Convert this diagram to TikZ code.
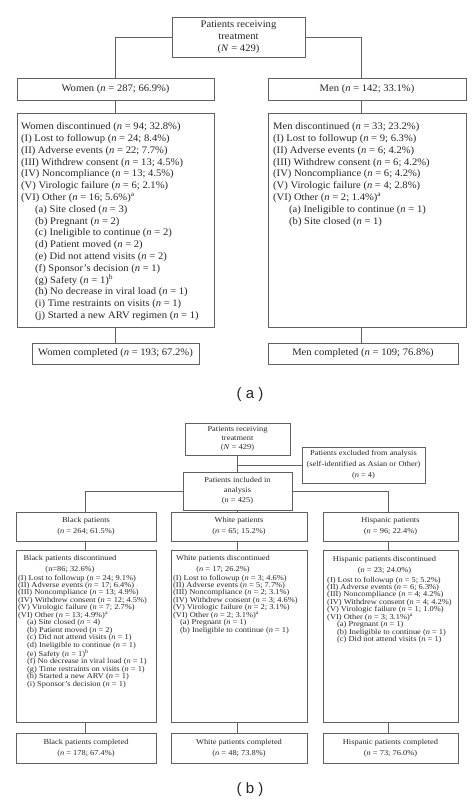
\documentclass[tikz,border=0pt]{standalone}
\usepackage{fontspec}
\setmainfont{Liberation Serif}
\newfontfamily\fa[FakeStretch=1.06]{Liberation Serif}
\newfontfamily\fb[FakeStretch=1.12]{Liberation Serif}
\newfontfamily\flab{Liberation Sans}
\newcommand{\nI}{\textit{n}}
\newcommand{\supa}{\textsuperscript{a}}
\newcommand{\supb}{\textsuperscript{b}}
\definecolor{txt}{gray}{0.15}
\definecolor{boxc}{gray}{0.38}
\begin{document}
\begin{tikzpicture}[x=1pt,y=-1pt,
  box/.style={draw=boxc, line width=0.8pt, inner sep=0pt, align=center, text=txt},
  listtxt/.style={inner sep=0pt, align=left, text=txt, anchor=north west},
  hdtxt/.style={inner sep=0pt, align=center, text=txt, anchor=north},
  ta/.style={font=\fa\fontsize{10}{11.8}\selectfont},
  tb/.style={font=\fb\fontsize{7.5}{7.45}\selectfont},
  tb9/.style={font=\fb\fontsize{7.5}{9}\selectfont},
  tb10/.style={font=\fb\fontsize{7.5}{10}\selectfont},
  tb11/.style={font=\fb\fontsize{7.5}{11}\selectfont},
  ln/.style={draw=boxc, line width=0.8pt},
  lab/.style={font=\flab\fontsize{15}{18}\selectfont, text=txt, inner sep=0pt}]
\useasboundingbox[fill=white] (0,0) rectangle (474,804);

% ---------------- (a) ----------------
\node[box, ta, minimum width=133pt, minimum height=40pt] (top) at (238.5,37) {Patients receiving\\treatment\\(\textit{N} = 429)};
\node[box, ta, minimum width=197pt, minimum height=22pt] (women) at (115.5,89) {Women (\nI{} = 287; 66.9\%)};
\node[box, ta, minimum width=198pt, minimum height=22pt] (men) at (367,89) {Men (\nI{} = 142; 33.1\%)};
\node[box, minimum width=197pt, minimum height=214pt] (wdisc) at (115.5,220) {};
\node[box, minimum width=198pt, minimum height=214pt] (mdisc) at (367,220) {};
\node[listtxt, ta] (wlist) at (21,122.5) {Women discontinued (\nI{} = 94; 32.8\%)\\
(I) Lost to followup (\nI{} = 24; 8.4\%)\\
(II) Adverse events (\nI{} = 22; 7.7\%)\\
(III) Withdrew consent (\nI{} = 13; 4.5\%)\\
(IV) Noncompliance (\nI{} = 13; 4.5\%)\\
(V) Virologic failure (\nI{} = 6; 2.1\%)\\
(VI) Other (\nI{} = 16; 5.6\%)\supa\\
\hspace*{14pt}(a) Site closed (\nI{} = 3)\\
\hspace*{14pt}(b) Pregnant (\nI{} = 2)\\
\hspace*{14pt}(c) Ineligible to continue (\nI{} = 2)\\
\hspace*{14pt}(d) Patient moved (\nI{} = 2)\\
\hspace*{14pt}(e) Did not attend visits (\nI{} = 2)\\
\hspace*{14pt}(f) Sponsor’s decision (\nI{} = 1)\\
\hspace*{14pt}(g) Safety (\nI{} = 1)\supb\\
\hspace*{14pt}(h) No decrease in viral load (\nI{} = 1)\\
\hspace*{14pt}(i) Time restraints on visits (\nI{} = 1)\\
\hspace*{14pt}(j) Started a new ARV regimen (\nI{} = 1)};
\node[listtxt, ta] (mlist) at (273,122.5) {Men discontinued (\nI{} = 33; 23.2\%)\\
(I) Lost to followup (\nI{} = 9; 6.3\%)\\
(II) Adverse events (\nI{} = 6; 4.2\%)\\
(III) Withdrew consent (\nI{} = 6; 4.2\%)\\
(IV) Noncompliance (\nI{} = 6; 4.2\%)\\
(V) Virologic failure (\nI{} = 4; 2.8\%)\\
(VI) Other (\nI{} = 2; 1.4\%)\supa\\
\hspace*{16pt}(a) Ineligible to continue (\nI{} = 1)\\
\hspace*{16pt}(b) Site closed (\nI{} = 1)};
\node[box, ta, minimum width=167pt, minimum height=21pt] (wcomp) at (115.5,353.5) {Women completed (\nI{} = 193; 67.2\%)};
\node[box, ta, minimum width=190pt, minimum height=21pt] (mcomp) at (363,353.5) {Men completed (\nI{} = 109; 76.8\%)};
\node[lab] (la) at (250,395) {( a )};

\coordinate (mx) at (361,0);
\draw[ln] (top.west) -| (women.north);
\draw[ln] (top.east) -| (mx |- men.north);
\draw[ln] (women.south) -- (wdisc.north);
\draw[ln] (men.south -| mx) -- (mdisc.north -| mx);
\draw[ln] (wdisc.south) -- (wcomp.north);
\draw[ln] (mdisc.south -| mx) -- (mcomp.north -| mx);

% ---------------- (b) ----------------
\node[box, tb9, minimum width=105pt, minimum height=32pt] (top2) at (237.5,439) {Patients receiving\\treatment\\(\textit{N} = 429)};
\node[box, tb11, minimum width=123pt, minimum height=36pt] (excl) at (363.5,465) {Patients excluded from analysis\\(self-identified as Asian or Other)\\(\nI{} = 4)};
\node[box, tb10, minimum width=109pt, minimum height=38pt] (incl) at (237.5,491) {Patients included in\\analysis\\(\nI{} = 425)};
\node[box, tb11, minimum width=140pt, minimum height=29pt] (black) at (86,526.5) {Black patients\\(\nI{} = 264; 61.5\%)};
\node[box, tb11, minimum width=136pt, minimum height=29pt] (white) at (239,526.5) {White patients\\(\nI{} = 65; 15.2\%)};
\node[box, tb11, minimum width=135pt, minimum height=29pt] (hisp) at (390.5,526.5) {Hispanic patients\\(\nI{} = 96; 22.4\%)};

\node[box, minimum width=140pt, minimum height=172pt] (bdisc) at (86,636) {};
\node[box, minimum width=136pt, minimum height=172pt] (wdisc2) at (239,636) {};
\node[box, minimum width=135pt, minimum height=172pt] (hdisc) at (390.5,636) {};

\node[hdtxt, tb11] (bhead) at (70,554.6) {Black patients discontinued\\(n=86; 32.6\%)};
\node[listtxt, tb] (blist) at (18,574.6) {(I) Lost to followup (\nI{} = 24; 9.1\%)\\
(II) Adverse events (\nI{} = 17; 6.4\%)\\
(III) Noncompliance (\nI{} = 13; 4.9\%)\\
(IV) Withdrew consent (\nI{} = 12; 4.5\%)\\
(V) Virologic failure (\nI{} = 7; 2.7\%)\\
(VI) Other (\nI{} = 13; 4.9\%)\supa\\
\hspace*{9pt}(a) Site closed (\nI{} = 4)\\
\hspace*{9pt}(b) Patient moved (\nI{} = 2)\\
\hspace*{9pt}(c) Did not attend visits (\nI{} = 1)\\
\hspace*{9pt}(d) Ineligible to continue (\nI{} = 1)\\
\hspace*{9pt}(e) Safety (\nI{} = 1)\supb\\
\hspace*{9pt}(f) No decrease in viral load (\nI{} = 1)\\
\hspace*{9pt}(g) Time restraints on visits (\nI{} = 1)\\
\hspace*{9pt}(h) Started a new ARV (\nI{} = 1)\\
\hspace*{9pt}(i) Sponsor’s decision (\nI{} = 1)};

\node[hdtxt, tb11] (whead) at (223,554.6) {White patients discontinued\\(\nI{} = 17; 26.2\%)};
\node[listtxt, tb] (wlist2) at (173,574.6) {(I) Lost to followup (\nI{} = 3; 4.6\%)\\
(II) Adverse events (\nI{} = 5; 7.7\%)\\
(III) Noncompliance (\nI{} = 2; 3.1\%)\\
(IV) Withdrew consent (\nI{} = 3; 4.6\%)\\
(V) Virologic failure (\nI{} = 2; 3.1\%)\\
(VI) Other (\nI{} = 2; 3.1\%)\supa\\
\hspace*{7pt}(a) Pregnant (\nI{} = 1)\\
\hspace*{7pt}(b) Ineligible to continue (\nI{} = 1)};

\node[hdtxt, tb11] (hhead) at (384.5,555.6) {Hispanic patients discontinued\\(\nI{} = 23; 24.0\%)};
\node[listtxt, tb] (hlist) at (327,576.6) {(I) Lost to followup (\nI{} = 5; 5.2\%)\\
(II) Adverse events (\nI{} = 6; 6.3\%)\\
(III) Noncompliance (\nI{} = 4; 4.2\%)\\
(IV) Withdrew consent (\nI{} = 4; 4.2\%)\\
(V) Virologic failure (\nI{} = 1; 1.0\%)\\
(VI) Other (\nI{} = 3; 3.1\%)\supa\\
\hspace*{10pt}(a) Pregnant (\nI{} = 1)\\
\hspace*{10pt}(b) Ineligible to continue (\nI{} = 1)\\
\hspace*{10pt}(c) Did not attend visits (\nI{} = 1)};

\node[box, tb11, minimum width=140pt, minimum height=30pt] (bcomp) at (86,748) {Black patients completed\\(\nI{} = 178; 67.4\%)};
\node[box, tb11, minimum width=136pt, minimum height=30pt] (wcomp2) at (239,748) {White patients completed\\(\nI{} = 48; 73.8\%)};
\node[box, tb11, minimum width=135pt, minimum height=30pt] (hcomp) at (390.5,748) {Hispanic patients completed\\(\nI{} = 73; 76.0\%)};
\node[lab] (lb) at (250,790) {( b )};

\coordinate (bx) at (85,0);
\coordinate (wx) at (237,0);
\coordinate (hx) at (388,0);
\draw[ln] (top2.south -| wx) -- (incl.north -| wx);
\draw[ln] (wx |- excl.west) -- (excl.west);
\draw[ln] (incl.west) -| (bx |- black.north);
\draw[ln] (incl.east) -| (hx |- hisp.north);
\draw[ln] (incl.south -| wx) -- (white.north -| wx);
\draw[ln] (black.south -| bx) -- (bdisc.north -| bx);
\draw[ln] (white.south -| wx) -- (wdisc2.north -| wx);
\draw[ln] (hisp.south -| hx) -- (hdisc.north -| hx);
\draw[ln] (bdisc.south -| bx) -- (bcomp.north -| bx);
\draw[ln] (wdisc2.south -| wx) -- (wcomp2.north -| wx);
\draw[ln] (hdisc.south -| hx) -- (hcomp.north -| hx);
\end{tikzpicture}
\end{document}
